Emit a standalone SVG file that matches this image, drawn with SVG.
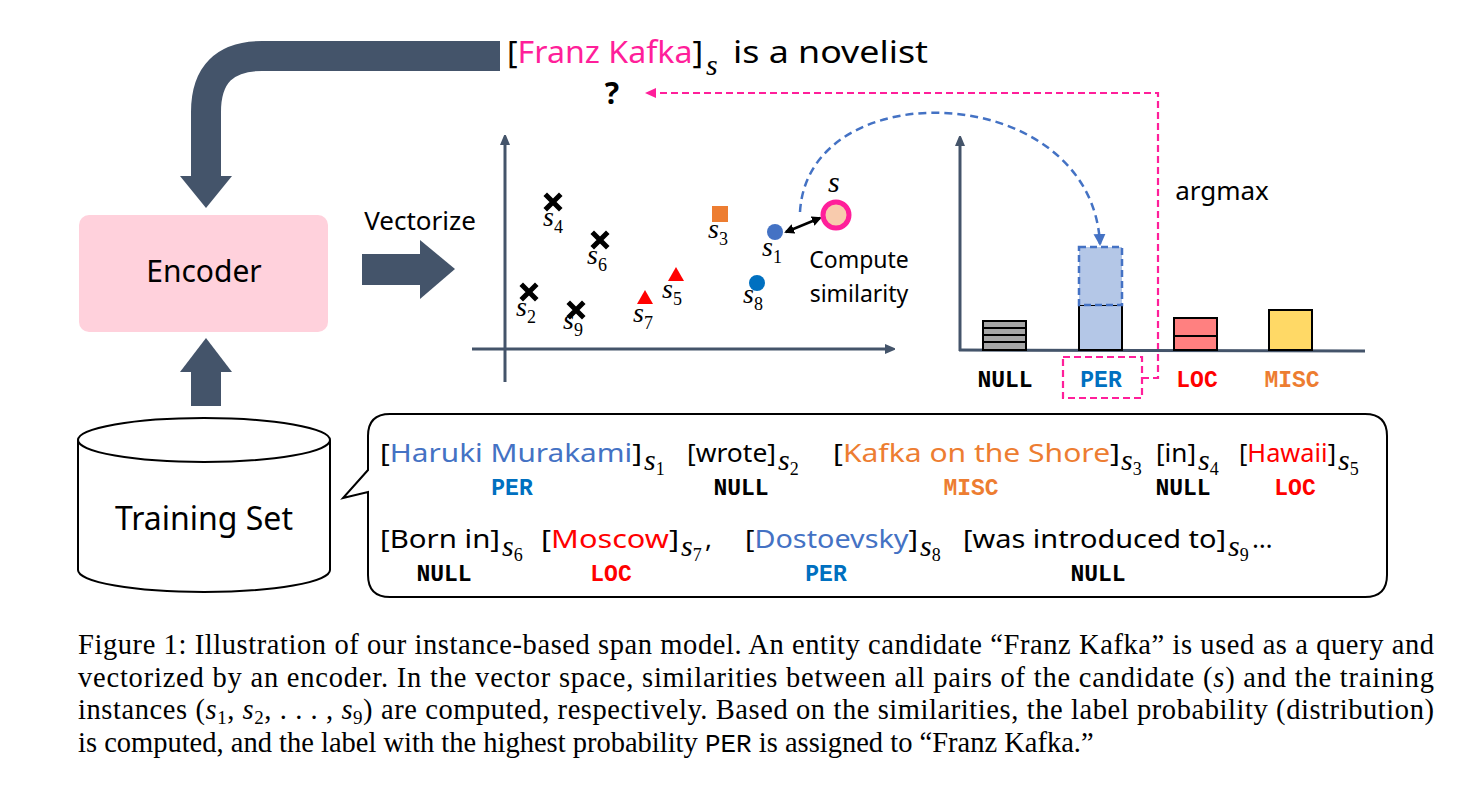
<svg xmlns="http://www.w3.org/2000/svg" width="1465" height="789" viewBox="0 0 1465 789">
<style>
.sans{font-family:"Noto Sans","Open Sans",sans-serif;}
.mono{font-family:"Liberation Mono","DejaVu Sans Mono",monospace;font-weight:bold;font-size:23px;text-anchor:middle;}
.mi{font-family:"Liberation Serif",serif;font-style:italic;}
.sub{font-family:"Liberation Serif",serif;font-size:18px;}
.cap{font-family:"Liberation Serif",serif;font-size:28.5px;fill:#000;}
.cmono{font-family:"Liberation Mono",monospace;font-size:26px;font-weight:normal;}
.ax{stroke:#44546a;stroke-width:3;fill:none;}
.x{stroke:#000;stroke-width:5;stroke-linecap:square;}
</style>
<defs>
<marker id="axh" markerWidth="10" markerHeight="10" refX="5" refY="5" orient="auto" markerUnits="userSpaceOnUse"><path d="M0,0 L12,5 L0,10 z" fill="#44546a"/></marker>
<marker id="bh" markerWidth="14" markerHeight="14" refX="10" refY="7" orient="auto" markerUnits="userSpaceOnUse"><path d="M0,1 L12,7 L0,13 z" fill="#4472c4"/></marker>
<marker id="ph" markerWidth="12" markerHeight="12" refX="9" refY="6" orient="auto" markerUnits="userSpaceOnUse"><path d="M0,1 L11,6 L0,11 z" fill="#ff1f9a"/></marker>
<marker id="kh" markerWidth="10" markerHeight="10" refX="8" refY="5" orient="auto-start-reverse" markerUnits="userSpaceOnUse"><path d="M0,0 L10,5 L0,10 z" fill="#000"/></marker>
</defs>
<rect width="1465" height="789" fill="#fff"/>

<g id="connectors">
<path d="M500,56 H262 Q206,56 206,112 V178" stroke="#44546a" stroke-width="30" fill="none"/>
<polygon points="180,176 232,176 206,208" fill="#44546a"/>
<rect x="191" y="370" width="30" height="36" fill="#44546a"/>
<polygon points="180,372 232,372 206,338" fill="#44546a"/>
<rect x="362" y="254" width="60" height="31" fill="#44546a"/>
<polygon points="420,240 420,299 455,269" fill="#44546a"/>
<path d="M800,212 C808,70 1092,80 1100,244" stroke="#4472c4" stroke-width="2.5" stroke-dasharray="8,5" fill="none" marker-end="url(#bh)"/>
<path d="M1142,378 H1158 V93 H647" stroke="#ff1f9a" stroke-width="2.2" stroke-dasharray="7,4" fill="none" marker-end="url(#ph)"/>
<line x1="786" y1="232" x2="820" y2="218" stroke="#000" stroke-width="2.5" marker-start="url(#kh)" marker-end="url(#kh)"/>
</g>

<g id="query">
<text x="507" y="63" class="sans" font-size="31" textLength="196" lengthAdjust="spacingAndGlyphs"><tspan>[</tspan><tspan fill="#ff1f9a">Franz Kafka</tspan><tspan>]</tspan></text>
<text x="706" y="75" class="mi" font-size="30">s</text>
<text x="733" y="63" class="sans" font-size="31" textLength="195" lengthAdjust="spacingAndGlyphs">is a novelist</text>
<text x="612" y="104" class="sans" font-size="30" font-weight="bold" text-anchor="middle">?</text>
</g>

<g id="encoder">
<rect x="79" y="215" width="249" height="117" rx="10" fill="#ffd1dc"/>
<text x="204" y="282" class="sans" font-size="30" text-anchor="middle">Encoder</text>
</g>

<g id="training-set">
<path d="M78,440 V570 A126,22 0 0 0 330,570 V440" fill="#fff" stroke="#000" stroke-width="2"/>
<ellipse cx="204" cy="440" rx="126" ry="22" fill="#fff" stroke="#000" stroke-width="2"/>
<text x="204" y="530" class="sans" font-size="32" text-anchor="middle">Training Set</text>
</g>

<g id="vectorize"><text x="420" y="230" class="sans" font-size="26" text-anchor="middle">Vectorize</text></g>

<g id="scatter">
<line class="ax" x1="505" y1="382" x2="505" y2="140" marker-end="url(#axh)"/>
<line class="ax" x1="472" y1="349" x2="890" y2="349" marker-end="url(#axh)"/>
<g class="x">
<path d="M547,196 L559,208 M559,196 L547,208"/>
<path d="M594,234 L606,246 M606,234 L594,246"/>
<path d="M523,286 L535,298 M535,286 L523,298"/>
<path d="M570,304 L582,316 M582,304 L570,316"/>
</g>
<polygon points="645,290 653,304 637,304" fill="#f00"/>
<polygon points="676,267 684,281 668,281" fill="#f00"/>
<rect x="712" y="206" width="16" height="16" fill="#ed7d31"/>
<circle cx="775" cy="232" r="8" fill="#4472c4"/>
<circle cx="757" cy="283" r="8" fill="#0070c0"/>
<circle cx="836" cy="215" r="13" fill="#f8cbad" stroke="#ff1f9a" stroke-width="5"/>
<text x="828" y="192" class="mi" font-size="30">s</text>
<text x="543" y="226" class="mi" font-size="28">s<tspan class="sub" font-style="normal" dy="7">4</tspan></text>
<text x="587" y="264" class="mi" font-size="28">s<tspan class="sub" font-style="normal" dy="7">6</tspan></text>
<text x="516" y="316" class="mi" font-size="28">s<tspan class="sub" font-style="normal" dy="7">2</tspan></text>
<text x="563" y="329" class="mi" font-size="28">s<tspan class="sub" font-style="normal" dy="7">9</tspan></text>
<text x="633" y="322" class="mi" font-size="28">s<tspan class="sub" font-style="normal" dy="7">7</tspan></text>
<text x="662" y="298" class="mi" font-size="28">s<tspan class="sub" font-style="normal" dy="7">5</tspan></text>
<text x="708" y="238" class="mi" font-size="28">s<tspan class="sub" font-style="normal" dy="7">3</tspan></text>
<text x="762" y="256" class="mi" font-size="28">s<tspan class="sub" font-style="normal" dy="7">1</tspan></text>
<text x="743" y="303" class="mi" font-size="28">s<tspan class="sub" font-style="normal" dy="7">8</tspan></text>
<text x="859" y="268" class="sans" font-size="23" text-anchor="middle">Compute</text>
<text x="859" y="302" class="sans" font-size="23" text-anchor="middle">similarity</text>
</g>

<g id="barchart">
<line class="ax" x1="960" y1="351" x2="960" y2="141" marker-end="url(#axh)"/>
<line class="ax" x1="959" y1="350" x2="1365" y2="351"/>
<g stroke="#000" stroke-width="2">
<rect x="983" y="321" width="43" height="29" fill="#a6a6a6"/>
<path d="M983,328 H1026 M983,335 H1026 M983,342 H1026"/>
<rect x="1079" y="305" width="43" height="45" fill="#b4c7e7"/>
<rect x="1174" y="318" width="43" height="32" fill="#ff8080"/>
<path d="M1174,336 H1217"/>
<rect x="1269" y="310" width="43" height="40" fill="#ffd966"/>
</g>
<rect x="1079" y="247" width="43" height="58" fill="#b4c7e7" stroke="#4472c4" stroke-width="2.5" stroke-dasharray="7,4"/>
<rect x="1063" y="357" width="79" height="41" fill="none" stroke="#ff1f9a" stroke-width="2.2" stroke-dasharray="7,4"/>
<text x="1005" y="387" class="mono" fill="#000">NULL</text>
<text x="1101" y="387" class="mono" fill="#0070c0">PER</text>
<text x="1197" y="387" class="mono" fill="#f00">LOC</text>
<text x="1292" y="387" class="mono" fill="#ed7d31">MISC</text>
<text x="1222" y="200" class="sans" font-size="26" text-anchor="middle">argmax</text>
</g>

<g id="examples">
<path d="M390,414 H1365 Q1387,414 1387,436 V575 Q1387,597 1365,597 H390 Q368,597 368,575 V492 L343,498 L368,470 V436 Q368,414 390,414 Z" fill="#fff" stroke="#000" stroke-width="2"/>
<g class="sans" font-size="26">
<text x="380" y="462" textLength="262" lengthAdjust="spacingAndGlyphs">[<tspan fill="#4472c4">Haruki Murakami</tspan>]</text>
<text x="687" y="462" textLength="89" lengthAdjust="spacingAndGlyphs">[wrote]</text>
<text x="833" y="462" textLength="287" lengthAdjust="spacingAndGlyphs">[<tspan fill="#ed7d31">Kafka on the Shore</tspan>]</text>
<text x="1156" y="462" textLength="40" lengthAdjust="spacingAndGlyphs">[in]</text>
<text x="1239" y="462" textLength="97" lengthAdjust="spacingAndGlyphs">[<tspan fill="#f00">Hawaii</tspan>]</text>
<text x="380" y="548" textLength="120" lengthAdjust="spacingAndGlyphs">[Born in]</text>
<text x="541" y="548" textLength="138" lengthAdjust="spacingAndGlyphs">[<tspan fill="#f00">Moscow</tspan>]</text>
<text x="705" y="548">,</text>
<text x="745" y="548" textLength="173" lengthAdjust="spacingAndGlyphs">[<tspan fill="#4472c4">Dostoevsky</tspan>]</text>
<text x="963" y="548" textLength="263" lengthAdjust="spacingAndGlyphs">[was introduced to]</text>
<text x="1252" y="548">…</text>
</g>
<g class="mi" font-size="30">
<text x="644" y="470">s<tspan class="sub" font-style="normal" dy="5">1</tspan></text>
<text x="778" y="470">s<tspan class="sub" font-style="normal" dy="5">2</tspan></text>
<text x="1121" y="470">s<tspan class="sub" font-style="normal" dy="5">3</tspan></text>
<text x="1198" y="470">s<tspan class="sub" font-style="normal" dy="5">4</tspan></text>
<text x="1338" y="470">s<tspan class="sub" font-style="normal" dy="5">5</tspan></text>
<text x="502" y="556">s<tspan class="sub" font-style="normal" dy="5">6</tspan></text>
<text x="681" y="556">s<tspan class="sub" font-style="normal" dy="5">7</tspan></text>
<text x="920" y="556">s<tspan class="sub" font-style="normal" dy="5">8</tspan></text>
<text x="1228" y="556">s<tspan class="sub" font-style="normal" dy="5">9</tspan></text>
</g>
<text x="512" y="495" class="mono" fill="#0070c0">PER</text>
<text x="741" y="495" class="mono" fill="#000">NULL</text>
<text x="971" y="495" class="mono" fill="#ed7d31">MISC</text>
<text x="1183" y="495" class="mono" fill="#000">NULL</text>
<text x="1295" y="495" class="mono" fill="#f00">LOC</text>
<text x="444" y="581" class="mono" fill="#000">NULL</text>
<text x="611" y="581" class="mono" fill="#f00">LOC</text>
<text x="826" y="581" class="mono" fill="#0070c0">PER</text>
<text x="1098" y="581" class="mono" fill="#000">NULL</text>
</g>

<g id="caption">
<text x="78" y="654" class="cap" textLength="1356" lengthAdjust="spacing">Figure 1:  Illustration of our instance-based span model. An entity candidate “Franz Kafka” is used as a query and</text>
<text x="78" y="687" class="cap" textLength="1356" lengthAdjust="spacing">vectorized by an encoder. In the vector space, similarities between all pairs of the candidate (<tspan font-style="italic">s</tspan>) and the training</text>
<text x="78" y="719" class="cap" textLength="1356" lengthAdjust="spacing">instances (<tspan font-style="italic">s</tspan><tspan font-size="19" dy="5">1</tspan><tspan dy="-5">, </tspan><tspan font-style="italic">s</tspan><tspan font-size="19" dy="5">2</tspan><tspan dy="-5">, . . . , </tspan><tspan font-style="italic">s</tspan><tspan font-size="19" dy="5">9</tspan><tspan dy="-5">) are computed, respectively. Based on the similarities, the label probability (distribution)</tspan></text>
<text x="78" y="752" class="cap">is computed, and the label with the highest probability <tspan class="cmono">PER</tspan> is assigned to “Franz Kafka.”</text>
</g>
</svg>
